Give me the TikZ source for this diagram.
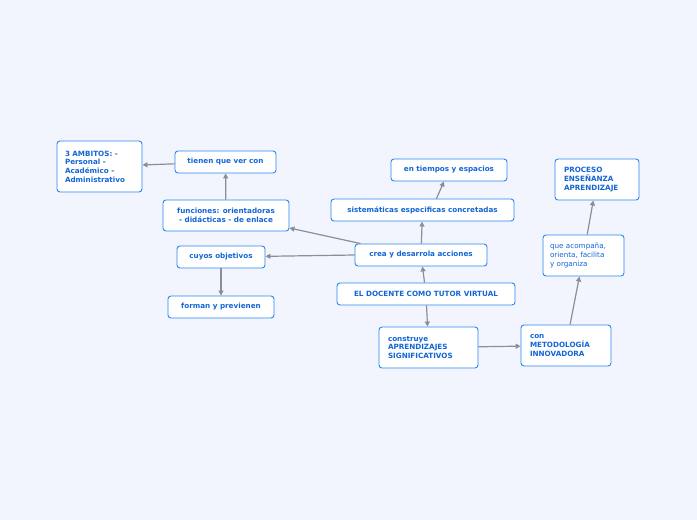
\documentclass[tikz,border=0pt]{standalone}
\usepackage{fontspec}
\setmainfont{DejaVu Sans}
\usetikzlibrary{arrows.meta}
\definecolor{bg}{HTML}{F2F5FD}
\definecolor{tx}{HTML}{1266D6}
\definecolor{bd}{HTML}{2A86F0}
\definecolor{ln}{HTML}{8A8E96}
\begin{document}
\begin{tikzpicture}[x=1pt,y=-1pt,
 box/.style={draw=bd,line width=0.9pt,fill=white,rounded corners=3pt,text=tx,font=\fontsize{7.2}{8.6}\selectfont\bfseries,inner sep=0pt,minimum height=22pt},
 arr/.style={draw=ln,line width=1.2pt,-{Triangle[length=5pt,width=5pt]}}]
\fill[bg] (0,0) rectangle (697,520);
\useasboundingbox (0,0) rectangle (697,520);
\node[box,minimum width=85pt,minimum height=51pt,text width=69pt,align=left] (amb) at (99.5,166.5) {3 AMBITOS: -\\Personal -\\Académico -\\Administrativo};
\node[box,minimum width=101pt] (tie) at (225.5,162) {tienen que ver con};
\node[box,minimum width=126pt,minimum height=31pt,align=center] (fun) at (226,215.5) {funciones: orientadoras\\- didácticas - de enlace};
\node[box,minimum width=88pt] (cuy) at (221,257) {cuyos objetivos};
\node[box,minimum width=106pt] (for) at (221,307) {forman y previenen};
\node[box,minimum width=116pt] (tpo) at (449,170) {en tiempos y espacios};
\node[box,minimum width=183pt] (sis) at (422.5,210) {sistemáticas especificas concretadas};
\node[box,minimum width=132pt] (cre) at (421,255) {crea y desarrola acciones};
\node[box,minimum width=178pt] (doc) at (426,294) {EL DOCENTE COMO TUTOR VIRTUAL};
\node[box,minimum width=99pt,minimum height=41pt,text width=81pt,align=left] (con) at (428.5,347.5) {construye\\APRENDIZAJES\\SIGNIFICATIVOS};
\node[box,minimum width=90pt,minimum height=41pt,text width=72pt,align=left] (met) at (566,345.5) {con\\METODOLOGÍA\\INNOVADORA};
\node[box,font=\fontsize{7.2}{9.4}\selectfont,minimum width=81pt,minimum height=41pt,text width=67pt,align=left] (que) at (583.5,255.5) {que acompaña,\\orienta, facilita\\y organiza};
\node[box,minimum width=84pt,minimum height=41pt,text width=66pt,align=left] (pro) at (597,179.5) {PROCESO\\ENSEÑANZA\\APRENDIZAJE};
\draw[arr] (tie) -- (amb);
\draw[arr] (fun) -- (tie);
\draw[arr] (cre.north west) ++(6,0) -- (fun.south east |- 0,228);
\draw[arr] (cre.west) -- (cuy);
\draw[arr] (cuy) -- (for);
\draw[arr] (cre) -- (sis);
\draw[arr] (sis.north) ++(14,0) -- (tpo);
\draw[arr] (doc) -- (cre);
\draw[arr] (doc) -- (con);
\draw[arr] (con) -- (met);
\draw[arr] (met) -- (que);
\draw[arr] (que) -- (pro);
\end{tikzpicture}
\end{document}
